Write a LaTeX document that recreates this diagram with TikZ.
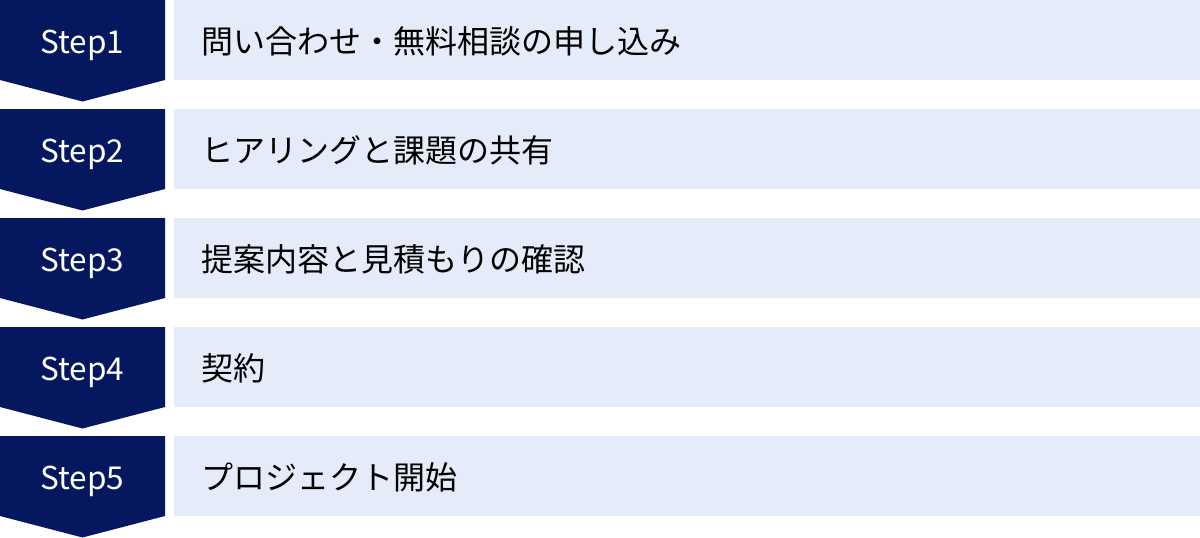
\documentclass[tikz,border=0pt]{standalone}
\usepackage{fontspec}
\setmainfont{Noto Sans CJK JP}
\definecolor{navy}{HTML}{05185F}
\definecolor{pale}{HTML}{E5ECF9}
\tikzset{
  stepshape/.style={fill=navy, draw=none},
  barshape/.style={fill=pale, draw=none},
  steplabel/.style={text=white, anchor=base, inner sep=0pt, font=\fontsize{31.5}{38}\selectfont},
  barlabel/.style={text=black, anchor=base west, inner sep=0pt, font=\fontsize{32}{38}\selectfont},
}
\begin{document}
\begin{tikzpicture}[x=1pt,y=1pt]
\useasboundingbox (0,0) rectangle (1200,-538);
\foreach \i/\txt in {0/問い合わせ・無料相談の申し込み,1/ヒアリングと課題の共有,2/提案内容と見積もりの確認,3/契約,4/プロジェクト開始}{
  \pgfmathsetmacro{\t}{109*\i}
  \pgfmathtruncatemacro{\n}{\i+1}
  \fill[stepshape] (0,-\t) -- (165,-\t) -- (165,-\t-80) -- (82.5,-\t-101.5) -- (0,-\t-80) -- cycle;
  \fill[barshape] (174,-\t) rectangle (1200,-\t-80);
  \node[steplabel] (step\n) at (82.5,-\t-53.3) {Step\n};
  \node[barlabel] (text\n) at (201,-\t-53.3) {\txt};
}
\end{tikzpicture}
\end{document}
